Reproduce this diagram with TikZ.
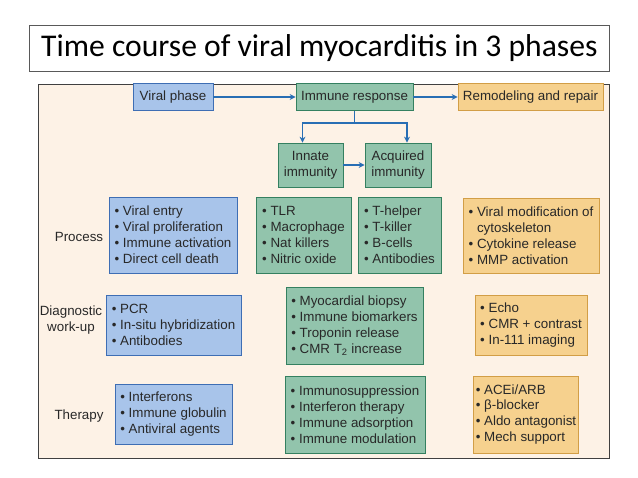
\documentclass[tikz,border=0pt]{standalone}
\usepackage{fontspec}
\setmainfont{Liberation Sans}
\newfontfamily\titlefont{Carlito}
\usepackage{xcolor}
\definecolor{panelbg}{RGB}{253,242,230}
\definecolor{virblue}{RGB}{168,196,234}
\definecolor{virline}{RGB}{62,110,180}
\definecolor{immgreen}{RGB}{146,196,172}
\definecolor{immline}{RGB}{52,128,96}
\definecolor{remorange}{RGB}{246,209,142}
\definecolor{remline}{RGB}{210,158,70}
\definecolor{arrowblue}{RGB}{40,110,180}
\definecolor{textgray}{RGB}{40,40,40}
\usepackage{tikz}
\usetikzlibrary{
  arrows.meta,
  positioning,
  calc
}

\begin{document}
\begin{tikzpicture}[x=0.03cm, y=-0.03cm,
  box/.style={rectangle, line width=0.8pt, font=\fontsize{11.4}{13.6}\selectfont, text=textgray, align=left, inner sep=2pt},
  viral/.style={box, draw=virline, fill=virblue},
  immune/.style={box, draw=immline, fill=immgreen},
  remodel/.style={box, draw=remline, fill=remorange},
  rowlabel/.style={font=\fontsize{11.4}{13.6}\selectfont, text=textgray, align=center},
  flow/.style={-{Stealth[length=5pt,width=5pt]}, line width=1.4pt, arrowblue}
]
  \useasboundingbox (0,0) rectangle (638,478);

  % title and panel
  \node[draw=black!65, line width=0.6pt, minimum width=17.4cm, minimum height=1.38cm,
        font=\titlefont\fontsize{27}{30}\selectfont, anchor=west, inner xsep=5pt] (title) at (29,48) {Time course of viral myocarditis in 3 phases};
  \node[draw=black!75, fill=panelbg, line width=0.7pt, minimum width=17.13cm, minimum height=11.22cm] (panel) at (323.5,271) {};

  % phases
  \node[viral, minimum width=2.4cm, minimum height=0.8cm] (vphase) at (173,97) {Viral phase};
  \node[immune, minimum width=3.51cm, minimum height=0.8cm] (iresp) at (354.5,97) {Immune response};
  \node[remodel, minimum width=4.35cm, minimum height=0.8cm] (rrepair) at (530.5,97) {Remodeling and repair};
  \node[immune, align=center, minimum width=1.95cm, minimum height=1.32cm] (innate) at (310.5,165) {Innate\\immunity};
  \node[immune, align=center, minimum width=1.98cm, minimum height=1.32cm] (acquired) at (398,165) {Acquired\\immunity};

  \draw[flow] (vphase) -- (iresp);
  \draw[flow] (iresp) -- (rrepair);
  \coordinate (split) at (354.5,123);
  \draw[line width=1.4pt, arrowblue] (iresp.south) -- (split);
  \draw[flow] (split) -| ([xshift=-0.24cm]innate.north);
  \draw[flow] (split) -| ([xshift=0.27cm]acquired.north);
  \draw[flow] (innate) -- (acquired);

  % row labels
  \node[rowlabel] (lproc) at (79,237) {Process};
  \node[rowlabel] (ldiag) at (71,320) {Diagnostic\\work-up};
  \node[rowlabel] (lther) at (79,416) {Therapy};

  % process
  \node[viral, minimum width=3.84cm, minimum height=2.28cm] (vproc) at (173,235) {• Viral entry\\• Viral proliferation\\• Immune activation\\• Direct cell death};
  \node[immune, minimum width=2.85cm, minimum height=2.28cm] (innproc) at (303.5,235) {• TLR\\• Macrophage\\• Nat killers\\• Nitric oxide};
  \node[immune, minimum width=2.49cm, minimum height=2.28cm] (acqproc) at (399.5,235) {• T-helper\\• T-killer\\• B-cells\\• Antibodies};
  \node[remodel, minimum width=4.08cm, minimum height=2.25cm] (rproc) at (531,235.5) {• Viral modification of\\\phantom{• }cytoskeleton\\• Cytokine release\\• MMP activation};

  % diagnostic work-up
  \node[viral, minimum width=4.05cm, minimum height=1.8cm] (vdiag) at (173.5,325) {• PCR\\• In-situ hybridization\\• Antibodies};
  \node[immune, minimum width=4.11cm, minimum height=2.31cm] (idiag) at (354.5,325.5) {• Myocardial biopsy\\• Immune biomarkers\\• Troponin release\\• CMR T\textsubscript{2} increase};
  \node[remodel, minimum width=3.36cm, minimum height=1.8cm] (rdiag) at (531,325) {• Echo\\• CMR + contrast\\• In-111 imaging};

  % therapy
  \node[viral, minimum width=3.51cm, minimum height=1.8cm] (vther) at (173.5,414) {• Interferons\\• Immune globulin\\• Antiviral agents};
  \node[immune, minimum width=4.2cm, minimum height=2.31cm] (ither) at (355,414.5) {• Immunosuppression\\• Interferon therapy\\• Immune adsorption\\• Immune modulation};
  \node[remodel, minimum width=3.06cm, minimum height=2.31cm] (rther) at (526,414.5) {• ACEi/ARB\\• β-blocker\\• Aldo antagonist\\• Mech support};
\end{tikzpicture}
\end{document}
